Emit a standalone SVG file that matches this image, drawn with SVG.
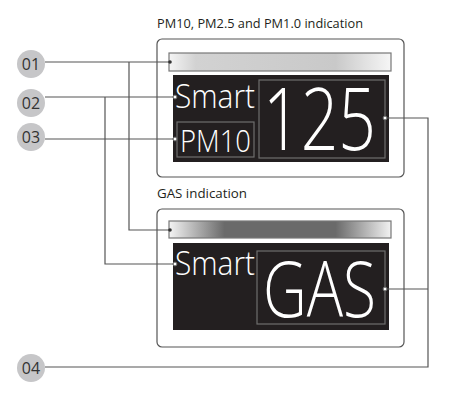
<svg xmlns="http://www.w3.org/2000/svg" width="456" height="402" viewBox="0 0 456 402">
<defs>
<linearGradient id="g1" x1="0" x2="1" y1="0" y2="0">
<stop offset="0" stop-color="#f4f4f4"/>
<stop offset="0.12" stop-color="#d2d2d2"/>
<stop offset="0.75" stop-color="#c9c9c9"/>
<stop offset="1" stop-color="#f6f6f6"/>
</linearGradient>
<linearGradient id="g2" x1="0" x2="1" y1="0" y2="0">
<stop offset="0" stop-color="#f4f4f4"/>
<stop offset="0.25" stop-color="#6a6a6a"/>
<stop offset="0.75" stop-color="#6a6a6a"/>
<stop offset="1" stop-color="#f2f2f2"/>
</linearGradient>
<style>
.title{font-family:"Open Sans","Liberation Sans",sans-serif;font-size:13.5px;fill:#231f20}
.panel{fill:#fff;stroke:#555;stroke-width:1.2}
.bar{stroke:#777;stroke-width:1.2}
.disp{fill:#231f20}
.box{fill:none;stroke:#6e6e6e;stroke-width:1.2}
.dt{font-family:"Open Sans","Liberation Sans",sans-serif;font-weight:300;fill:#fff}
.badge{fill:#c6c6c8}
.bt{font-family:"Open Sans","Liberation Sans",sans-serif;font-size:16px;font-weight:500;fill:#333;text-anchor:middle}
.ln{fill:none;stroke:#555;stroke-width:1.2}
.dot{fill:#fff;stroke:#555;stroke-width:1}
.fdot{fill:#333}
</style>
</defs>
<g id="panel-pm">
<text class="title" x="157" y="28" textLength="206" lengthAdjust="spacingAndGlyphs">PM10, PM2.5 and PM1.0 indication</text>
<rect class="panel" x="157" y="39" width="247" height="138" rx="5"/>
<rect class="bar" x="169" y="53" width="222" height="18" fill="url(#g1)"/>
<rect class="disp" x="173" y="75" width="216" height="87"/>
<text class="dt" x="175" y="108" font-size="33" textLength="80" lengthAdjust="spacingAndGlyphs">Smart</text>
<rect class="box" x="177" y="122" width="77" height="35"/>
<text class="dt" x="180" y="152" font-size="31" textLength="71" lengthAdjust="spacingAndGlyphs">PM10</text>
<rect class="box" x="259" y="80" width="126" height="78"/>
<text class="dt" x="263" y="150" font-size="86" textLength="113" lengthAdjust="spacingAndGlyphs">125</text>
</g>
<g id="panel-gas">
<text class="title" x="157" y="198" textLength="90" lengthAdjust="spacingAndGlyphs">GAS indication</text>
<rect class="panel" x="157" y="209" width="247" height="138" rx="5"/>
<rect class="bar" x="169" y="221" width="222" height="17" fill="url(#g2)"/>
<rect class="disp" x="173" y="243" width="216" height="87"/>
<text class="dt" x="175" y="275" font-size="33" textLength="80" lengthAdjust="spacingAndGlyphs">Smart</text>
<rect class="box" x="257" y="251" width="128" height="73"/>
<text class="dt" x="263" y="317" font-size="78" textLength="113" lengthAdjust="spacingAndGlyphs">GAS</text>
</g>
<g id="badge-01"><circle class="badge" cx="31" cy="64" r="14"/><text class="bt" x="31" y="70">01</text></g>
<g id="badge-02"><circle class="badge" cx="31" cy="103" r="14"/><text class="bt" x="31" y="109">02</text></g>
<g id="badge-03"><circle class="badge" cx="31" cy="137" r="14"/><text class="bt" x="31" y="143">03</text></g>
<g id="badge-04"><circle class="badge" cx="31" cy="368" r="14"/><text class="bt" x="31" y="374">04</text></g>
<g id="connectors">
<path class="ln" d="M45 62 H170 M129 62 V230 H170"/>
<path class="ln" d="M45 97 H175 M105 97 V264 H175"/>
<path class="ln" d="M45 139 H175"/>
<path class="ln" d="M45 367 H428 V118 H385 M428 289 H385"/>
<circle class="fdot" cx="170" cy="62" r="1.8"/>
<circle class="fdot" cx="170" cy="230" r="1.8"/>
<circle class="dot" cx="175" cy="97" r="2"/>
<circle class="dot" cx="175" cy="139" r="2"/>
<circle class="dot" cx="175" cy="264" r="2"/>
<circle class="dot" cx="385" cy="118" r="2"/>
<circle class="dot" cx="385" cy="289" r="2"/>
</g>
</svg>
